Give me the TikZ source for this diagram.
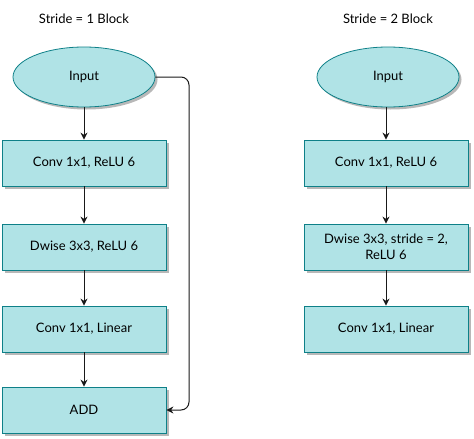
\documentclass[tikz,border=0pt]{standalone}
\usepackage{fontspec}
\setmainfont{Lato}
\usetikzlibrary{shapes.geometric,shadows,arrows.meta}
\definecolor{boxfill}{HTML}{B0E3E6}
\definecolor{boxline}{HTML}{0E8088}
\begin{document}
\begin{tikzpicture}[x=1pt,y=-1pt,
  blk/.style={draw=boxline,fill=boxfill,line width=0.8pt,minimum width=164pt,minimum height=46pt,align=center,font=\fontsize{13}{15.5}\selectfont,
    drop shadow={shadow xshift=2.5pt,shadow yshift=-2.5pt,fill=black!35,opacity=0.8}},
  ell/.style={ellipse,draw=boxline,fill=boxfill,line width=0.8pt,minimum width=142pt,minimum height=60pt,font=\fontsize{13}{15.5}\selectfont,
    drop shadow={shadow xshift=2.5pt,shadow yshift=-2.5pt,fill=black!35,opacity=0.8}},
  ttl/.style={font=\fontsize{13}{15.5}\selectfont},
  arr/.style={draw=black!90,line width=1pt,-{Stealth[length=7pt,width=7pt]}}]
\useasboundingbox (0,0) rectangle (474,439);
\node[ttl] (t1) at (84,19) {Stride = 1 Block};
\node[ttl] (t2) at (388,19) {Stride = 2 Block};
\node[ell] (in1) at (84,77) {Input};
\node[blk] (a1) at (84,163) {Conv 1x1, ReLU 6};
\node[blk] (a2) at (84,247) {Dwise 3x3, ReLU 6};
\node[blk] (a3) at (84,329) {Conv 1x1, Linear};
\node[blk] (a4) at (84,410) {ADD};
\node[ell] (in2) at (388,77) {Input};
\node[blk] (b1) at (386,163) {Conv 1x1, ReLU 6};
\node[blk] (b2) at (386,247) {Dwise 3x3, stride = 2,\\ReLU 6};
\node[blk] (b3) at (386,329) {Conv 1x1, Linear};
\draw[arr] (in1) -- (a1);
\draw[arr] (a1) -- (a2);
\draw[arr] (a2) -- (a3);
\draw[arr] (a3) -- (a4);
\draw[arr] (in2.south -| b1.north) -- (b1);
\draw[arr] (b1) -- (b2);
\draw[arr] (b2) -- (b3);
\draw[arr,rounded corners=8pt] (in1.east) -- (189,77) -- (189,410) -- (a4.east);
\end{tikzpicture}
\end{document}
